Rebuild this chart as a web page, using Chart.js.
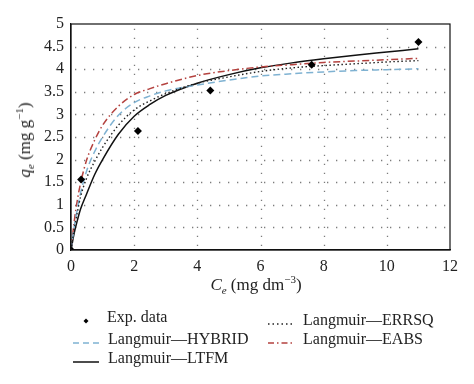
<!DOCTYPE html>
<html>
<head>
<meta charset="utf-8">
<script src="https://cdn.jsdelivr.net/npm/chart.js@4.4.1/dist/chart.umd.min.js"></script>
<style>
  html, body { margin: 0; padding: 0; background: #fff; }
  #wrap { position: relative; width: 474px; height: 384px; overflow: hidden; font-family: "Liberation Serif", "DejaVu Serif", serif; color: #222; }
  #myChart { position: absolute; left: 0; top: 0; }
  .ttl { position: absolute; font-size: 17px; white-space: nowrap; }
  .ttl sub, .ttl sup { font-size: 11px; line-height: 0; }
  #ytitle { left: 25px; top: 140px; transform: translate(-50%, -50%) rotate(-90deg); }
  #xtitle { left: 256px; top: 285px; transform: translate(-50%, -50%); }
  .lg { position: absolute; font-size: 16px; white-space: nowrap; line-height: 1; transform: translateY(-50%); }
  .sw { position: absolute; }
</style>
</head>
<body>
<div id="wrap">
  <canvas id="myChart" width="474" height="384"></canvas>
  <div class="ttl" id="ytitle"><i>q</i><sub><i>e</i></sub> (mg g<sup>&minus;1</sup>)</div>
  <div class="ttl" id="xtitle"><i>C</i><sub><i>e</i></sub> (mg dm<sup>&minus;3</sup>)</div>
  <div id="legend"></div>
</div>
<script>
// experimental points
const expC = [0, 0.32, 2.12, 4.41, 7.62, 11.0];
const expQ = [0, 1.56, 2.63, 3.53, 4.10, 4.60];

// model curves at these Ce values
const curveC = [0, 0.1, 0.2, 0.3, 0.5, 0.75, 1, 1.5, 2, 2.5, 3, 4, 5, 6, 7, 8, 9, 10, 11];
const ltfm   = [0, 0.37, 0.65, 0.90, 1.25, 1.67, 2.00, 2.56, 2.96, 3.22, 3.42, 3.69, 3.88, 4.03, 4.14, 4.23, 4.31, 4.38, 4.45];
const errsq  = [0, 0.45, 0.83, 1.17, 1.60, 1.96, 2.27, 2.76, 3.10, 3.30, 3.46, 3.69, 3.83, 3.95, 4.03, 4.08, 4.12, 4.16, 4.19];
const hybrid = [0, 0.50, 0.90, 1.25, 1.76, 2.18, 2.50, 2.98, 3.26, 3.41, 3.52, 3.65, 3.76, 3.85, 3.90, 3.94, 3.97, 3.99, 4.01];
const eabs   = [0, 0.62, 1.10, 1.47, 2.00, 2.43, 2.76, 3.18, 3.44, 3.57, 3.68, 3.86, 3.97, 4.05, 4.10, 4.15, 4.18, 4.21, 4.24];

const xTicks = [0, 2, 4, 6, 8, 10, 12];
const yTicks = [0, 0.5, 1, 1.5, 2, 2.5, 3, 3.5, 4, 4.5, 5];

const toPts = (xs, ys) => xs.map((x, i) => ({ x: x, y: ys[i] }));

const RED = '#b4423f';
const BLUE = '#7fb2d2';

const curve = (label, ys, color, dash, width) => ({
    label: label,
    data: toPts(curveC, ys),
    showLine: true,
    borderColor: color,
    borderWidth: width,
    borderDash: dash,
    pointRadius: 0,
    cubicInterpolationMode: 'monotone',
    fill: false
});

// dotted grid at the tick positions
const dotGrid = {
    id: 'dotGrid',
    beforeDatasetsDraw(chart) {
        const { ctx, chartArea: a, scales } = chart;
        ctx.save();
        ctx.strokeStyle = '#7c7c7c';
        ctx.lineWidth = 1.3;
        ctx.setLineDash([1.3, 7.7]);
        yTicks.forEach(v => {
            if (v === 0 || v === 5) return;
            const y = Math.round(scales.y.getPixelForValue(v)) + 0.5;
            ctx.beginPath(); ctx.moveTo(a.left + 4, y); ctx.lineTo(a.right, y); ctx.stroke();
        });
        xTicks.forEach(v => {
            if (v === 0 || v === 12) return;
            const x = Math.round(scales.x.getPixelForValue(v)) + 0.5;
            ctx.beginPath(); ctx.moveTo(x, a.bottom - 4); ctx.lineTo(x, a.top); ctx.stroke();
        });
        ctx.restore();
    }
};

// frame round the plot area (top + right edges too)
const framePlugin = {
    id: 'frame',
    afterDatasetsDraw(chart) {
        const { ctx, chartArea: a } = chart;
        ctx.save();
        ctx.strokeStyle = '#111';
        ctx.lineWidth = 1.2;
        ctx.strokeRect(a.left, a.top, a.right - a.left, a.bottom - a.top);
        ctx.restore();
    }
};

const tickFont = { family: 'Liberation Serif', size: 16 };

const ctx = document.getElementById('myChart').getContext('2d');
const myChart = new Chart(ctx, {
    type: 'scatter',
    data: {
        datasets: [{
            label: 'Exp. data',
            data: toPts(expC, expQ),
            pointStyle: 'rectRot',
            pointRadius: 4,
            backgroundColor: '#000',
            borderColor: '#000',
            borderWidth: 0
        },
        curve('Langmuir\u2014ERRSQ', errsq, '#222', [1.5, 2.5], 1.4),
        curve('Langmuir\u2014HYBRID', hybrid, BLUE, [7, 4], 1.5),
        curve('Langmuir\u2014EABS', eabs, RED, [7, 3, 1.5, 3], 1.5),
        curve('Langmuir\u2014LTFM', ltfm, '#111', [], 1.5)]
    },
    options: {
        responsive: false,
        animation: false,
        layout: { padding: { left: 0, right: 24, top: 24, bottom: 104 } },
        plugins: {
            legend: { display: false },
            tooltip: { enabled: false }
        },
        scales: {
            x: {
                type: 'linear',
                min: 0,
                max: 12,
                afterFit(scale) { scale.height = 30; },
                afterBuildTicks(scale) { scale.ticks = xTicks.map(v => ({ value: v })); },
                border: { display: true, color: '#111', width: 1.2 },
                grid: { display: false, drawTicks: false },
                ticks: { padding: 7, color: '#222', font: tickFont, callback: v => String(v) }
            },
            y: {
                type: 'linear',
                min: 0,
                max: 5,
                afterFit(scale) { scale.width = 71; },
                afterBuildTicks(scale) { scale.ticks = yTicks.map(v => ({ value: v })); },
                border: { display: true, color: '#111', width: 1.2 },
                grid: { display: false, drawTicks: false },
                ticks: { padding: 7, color: '#222', font: tickFont, callback: v => String(v) }
            }
        }
    },
    plugins: [dotGrid, framePlugin]
});

// legend, laid out like the reference (two columns)
const legendItems = [
    { text: 'Exp. data', x: 107, y: 317, kind: 'dot' },
    { text: 'Langmuir\u2014ERRSQ', x: 303, y: 320, kind: 'line', color: '#222', dash: '1.5 3' },
    { text: 'Langmuir\u2014HYBRID', x: 108, y: 339, kind: 'line', color: BLUE, dash: '6 4' },
    { text: 'Langmuir\u2014EABS', x: 303, y: 339, kind: 'line', color: RED, dash: '6 3 1.5 3' },
    { text: 'Langmuir\u2014LTFM', x: 108, y: 358, kind: 'line', color: '#111', dash: '' }
];
const legendEl = document.getElementById('legend');
legendItems.forEach(item => {
    const t = document.createElement('div');
    t.className = 'lg';
    t.style.left = item.x + 'px';
    t.style.top = item.y + 'px';
    t.textContent = item.text;
    legendEl.appendChild(t);

    const sw = document.createElement('div');
    sw.className = 'sw';
    sw.style.left = (item.x - 36) + 'px';
    sw.style.top = (item.y - 5) + 'px';
    if (item.kind === 'dot') {
        sw.innerHTML = '<svg width="28" height="10"><polygon points="15,2.5 17.5,5 15,7.5 12.5,5" fill="#000"/></svg>';
    } else {
        sw.innerHTML = '<svg width="28" height="10"><line x1="1" y1="5" x2="27" y2="5" stroke="' + item.color +
            '" stroke-width="1.5" stroke-dasharray="' + item.dash + '"/></svg>';
    }
    legendEl.appendChild(sw);
});
</script>
</body>
</html>
